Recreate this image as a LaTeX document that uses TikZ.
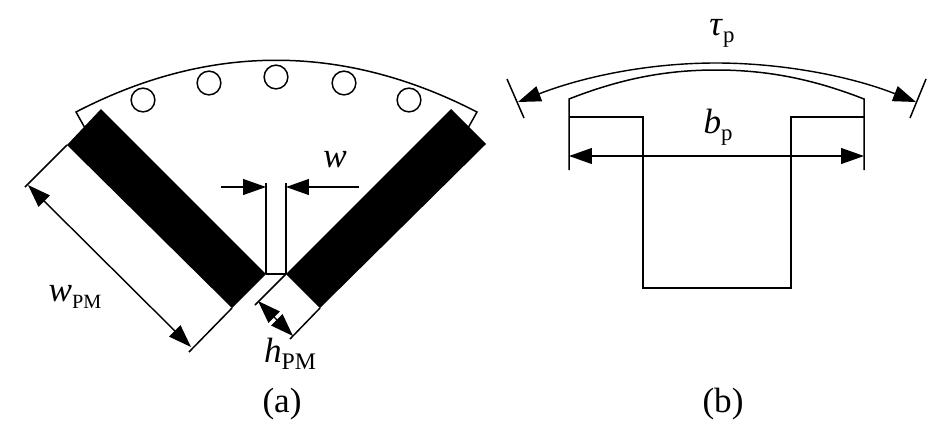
\documentclass[tikz,border=0pt]{standalone}
\usepackage{fontspec}
\setmainfont{Liberation Serif}
\usetikzlibrary{arrows.meta}

\newcommand{\dimlabel}[3]{\textit{#2}\raisebox{-0.45ex}{\fontsize{#1}{12}\selectfont #3}}

\tikzset{
  part/.style={line width=0.85pt},
  dimline/.style={line width=0.8pt,{Triangle[length=13pt,width=9pt]}-{Triangle[length=13pt,width=9pt]}},
  leader/.style={line width=0.8pt,-{Triangle[length=13pt,width=9pt]}},
  magnet/.style={fill=black,draw=none},
  hole/.style={circle,draw,line width=0.85pt,minimum size=13.5pt,inner sep=0pt},
}

\begin{document}
\begin{tikzpicture}[x=0.02cm,y=-0.02cm]
      \useasboundingbox (0,0) rectangle (942,444);

      % pole with magnets
      \coordinate (la) at (101,109);
      \coordinate (lb) at (67,145);
      \coordinate (lc) at (232,308);
      \coordinate (ld) at (266,274);
      \coordinate (ra) at (451,109);
      \coordinate (rb) at (486,144);
      \coordinate (rc) at (320,308);
      \coordinate (rd) at (286,274);

      \coordinate (arcl) at (76,112);
      \coordinate (arcr) at (477,112);
      \coordinate (arcla) at (85,128);
      \coordinate (arcra) at (468,128);

      \fill[magnet] (la) -- (lb) -- (lc) -- (ld) -- cycle;
      \fill[magnet] (ra) -- (rb) -- (rc) -- (rd) -- cycle;

      \draw[part] (arcla) -- (arcl) .. controls (209,43) and (343,43) .. (arcr) -- (arcra);
      \draw[part] (ld) -- (rd);

      \begin{scope}[every node/.style={hole}]
        \node (h1) at (143,100) {};
        \node (h2) at (209,83)  {};
        \node (h3) at (276,77)  {};
        \node (h4) at (344,83)  {};
        \node (h5) at (409,100) {};
      \end{scope}

      % dimensions of (a)
      \coordinate (wl) at (266,183);
      \coordinate (wr) at (286,183);
      \coordinate (wla) at (221,187);
      \coordinate (wlb) at (266,187);
      \coordinate (wra) at (359,187);
      \coordinate (wrb) at (286,187);

      \draw[part] (wl) -- (ld);
      \draw[part] (wr) -- (rd);
      \draw[leader] (wla) -- (wlb);
      \draw[leader] (wra) -- (wrb);

      \coordinate (pma) at (25,187);
      \coordinate (pmb) at (189,352);
      \coordinate (pmc) at (28,185);
      \coordinate (pmd) at (191,347);
      \draw[part] (lb) -- (pma);
      \draw[part] (lc) -- (pmb);
      \draw[dimline] (pmc) -- (pmd);

      \coordinate (hma) at (255,305);
      \coordinate (hmb) at (290,339);
      \coordinate (hmc) at (258,301);
      \coordinate (hmd) at (293,336);
      \draw[part] (rd) -- (hma);
      \draw[part] (rc) -- (hmb);
      \draw[dimline] (hmc) -- (hmd);

      % tooth
      \coordinate (ta) at (569,99);
      \coordinate (tb) at (864,99);
      \coordinate (tc) at (569,170);
      \coordinate (td) at (864,170);
      \coordinate (te) at (569,117);
      \coordinate (tf) at (643,117);
      \coordinate (tg) at (643,288);
      \coordinate (th) at (791,288);
      \coordinate (ti) at (791,117);
      \coordinate (tj) at (864,117);

      \draw[part] (tc) -- (ta) .. controls (620,79) and (665,70) .. (716,70) .. controls (767,70) and (813,79) .. (tb) -- (td);
      \draw[part] (te) -- (tf) -- (tg) -- (th) -- (ti) -- (tj);

      \coordinate (bl) at (569,156);
      \coordinate (br) at (864,156);
      \draw[dimline] (bl) -- (br);

      \coordinate (tl) at (518,102);
      \coordinate (tr) at (916,102);
      \coordinate (tla) at (507,79);
      \coordinate (tlb) at (524,118);
      \coordinate (tra) at (926,79);
      \coordinate (trb) at (910,118);

      \draw[part] (tla) -- (tlb);
      \draw[part] (tra) -- (trb);
      \draw[dimline] (tl) .. controls (585,76) and (650,63) .. (716,63) .. controls (782,63) and (850,76) .. (tr);

      % labels
      \begin{scope}[every node/.style={font=\fontsize{20}{22}\selectfont,inner sep=0pt}]
        \node (lw)   at (335,160) {\textit{w}};
        \node (lwpm) at (75,297)  {\dimlabel{11.5}{w}{PM}};
        \node (lhpm) at (290,354) {\dimlabel{13.5}{h}{PM}};
        \node (lcapa) at (282,404) {(a)};
        \node (lcapb) at (723,404) {(b)};
        \node (ltau) at (722,33)  {\dimlabel{13}{τ}{p}};
        \node (lbp)  at (718,127) {\dimlabel{13}{b}{p}};
      \end{scope}

    \end{tikzpicture}
\end{document}
